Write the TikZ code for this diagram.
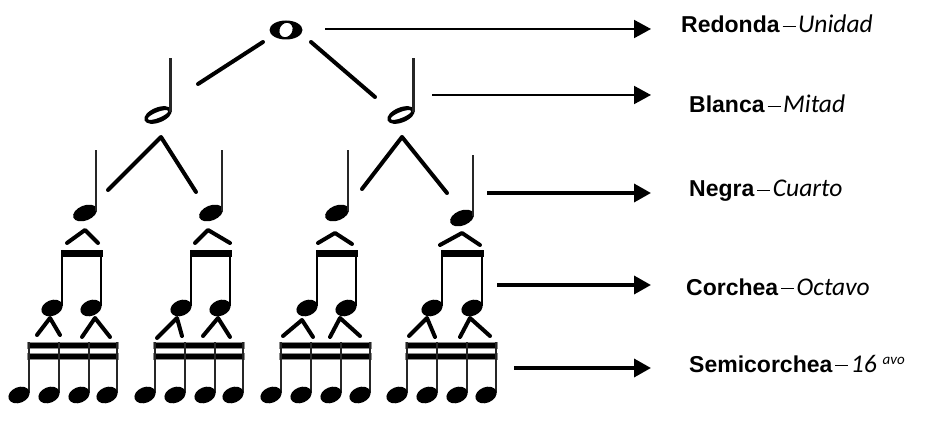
\documentclass[tikz,border=0pt]{standalone}
\usepackage{fontspec}
\newfontfamily\labfont{Liberation Sans}
\newfontfamily\itfont{Carlito}
\usetikzlibrary{arrows.meta}
\tikzset{
  branch/.style={line width=4pt, line cap=round, line join=round},
  caret/.style={line width=4pt, line cap=round, line join=round},
  stem/.style={line width=2.5pt, draw=black!85},
  beam/.style={fill=black},
  arr/.style={-{Triangle[length=17pt,width=18pt]}, line width=3.5pt},
  thinarr/.style={arr, line width=2pt},
  lab/.style={anchor=base west, inner sep=0pt, font={\labfont\bfseries\fontsize{23}{26}\selectfont}},
}
\newcommand\itpart[1]{\hspace{3pt}\rule[5.7pt]{13pt}{1.3pt}\hspace{2.5pt}{\itfont\mdseries\itshape\fontsize{25.5}{28}\selectfont #1}}
% quarter note: x y stemtop
\newcommand\qnote[3]{%
  \fill (#1,#2) ellipse [x radius=12.5pt, y radius=7.5pt, rotate=22];
  \draw[stem] (#1+11,#2-2) -- (#1+11,#3);}
% half note: x y stemtop
\newcommand\hnote[3]{%
  \fill[even odd rule] (#1,#2) ellipse [x radius=14.5pt, y radius=7.5pt, rotate=22]
      (#1,#2) ellipse [x radius=11pt, y radius=3pt, rotate=22];
  \draw[stem] (#1+12.5,#2-3) -- (#1+12.5,#3);}
% filled small head
\newcommand\shead[2]{\fill (#1,#2) ellipse [x radius=11pt, y radius=7.8pt, rotate=22];}
% eighth pair: xL xR
\newcommand\epair[2]{%
  \fill[beam] (#1-1.5,250) rectangle (#2+1.5,257);
  \draw[stem,draw=black] (#1,250) -- (#1,306);
  \draw[stem,draw=black] (#2,250) -- (#2,306);
  \shead{#1-10}{308}\shead{#2-10}{308}}
% sixteenth group
\newcommand\sgroup[4]{%
  \fill[beam,draw=black!45,line width=0.8pt] (#1-1.5,342) rectangle (#4+1.5,348);
  \fill[beam,draw=black!45,line width=0.8pt] (#1-1.5,353) rectangle (#4+1.5,359);
  \foreach \sx in {#1,#2,#3,#4}{\draw[stem] (\sx,342) -- (\sx,393);}
  \foreach \sx in {#1,#2,#3,#4}{\shead{\sx-10}{395}}}
% caret: left apex right (x,y pairs)
\newcommand\caret[6]{\draw[caret] (#1,#2) -- (#3,#4) -- (#5,#6);}
\begin{document}
\begin{tikzpicture}[x=1pt,y=-1pt]
\useasboundingbox (0,0) rectangle (927,422);

% whole note
\fill[even odd rule] (286,30) ellipse [x radius=16.5pt, y radius=9.5pt]
  (286,30) ellipse [x radius=7.5pt, y radius=6.3pt, rotate=60];

% half notes
\hnote{158}{115}{58}
\hnote{401}{115}{58}

% quarter notes
\qnote{85}{213}{150}
\qnote{211}{213}{150}
\qnote{337}{213}{150}
\qnote{462}{218}{155}

% branch coordinates
\coordinate (w1) at (263,42);  \coordinate (h1) at (198,84);
\coordinate (w2) at (311,42);  \coordinate (h2) at (375,97);
\coordinate (p1) at (161,137); \coordinate (q1) at (108,190); \coordinate (q2) at (196,192);
\coordinate (p2) at (402,137); \coordinate (q3) at (362,189); \coordinate (q4) at (447,193);
\draw[branch] (w1) -- (h1);
\draw[branch] (w2) -- (h2);
\draw[branch] (q1) -- (p1) -- (q2);
\draw[branch] (q3) -- (p2) -- (q4);

% carets below quarters
\caret{67}{243}{85}{230}{98}{243}
\caret{195}{243}{208}{230}{230}{243}
\caret{318}{243}{335}{233}{352}{244}
\caret{440}{245}{462}{233}{480}{245}

% eighth pairs
\epair{62}{101}
\epair{191}{230}
\epair{317}{356}
\epair{442}{482}

% carets below eighths
\caret{37}{335}{50}{318}{60}{335}   \caret{82}{337}{95}{318}{110}{337}
\caret{157}{338}{177}{318}{182}{336} \caret{203}{336}{218}{318}{230}{337}
\caret{283}{336}{302}{320}{313}{337} \caret{330}{337}{340}{318}{360}{336}
\caret{409}{336}{427}{318}{435}{337} \caret{460}{337}{470}{318}{490}{336}

% sixteenth groups
\sgroup{29}{59}{89}{117}
\sgroup{155}{185}{215}{243}
\sgroup{281}{311}{341}{370}
\sgroup{407}{437}{467}{496}

% labels
\node[lab] (l1) at (681,33) {Redonda\itpart{Unidad}};
\node[lab] (l2) at (689,113) {Blanca\itpart{Mitad}};
\node[lab] (l3) at (689,197) {Negra\itpart{Cuarto}};
\node[lab] (l4) at (686,295) {Corchea\itpart{Octavo}};
\node[lab] (l5) at (689,372) {Semicorchea\itpart{16\hspace{6pt}\raisebox{8pt}{\fontsize{15}{15}\selectfont avo}}};

% arrows
\coordinate (s1) at (325,29);  \coordinate (e1) at (651,29);
\coordinate (s2) at (432,95);  \coordinate (e2) at (651,95);
\coordinate (s3) at (487,193); \coordinate (e3) at (651,193);
\coordinate (s4) at (497,285); \coordinate (e4) at (651,285);
\coordinate (s5) at (514,368); \coordinate (e5) at (651,368);
\draw[thinarr] (s1) -- (e1);
\draw[thinarr] (s2) -- (e2);
\draw[arr] (s3) -- (e3);
\draw[arr] (s4) -- (e4);
\draw[arr] (s5) -- (e5);
\end{tikzpicture}
\end{document}
